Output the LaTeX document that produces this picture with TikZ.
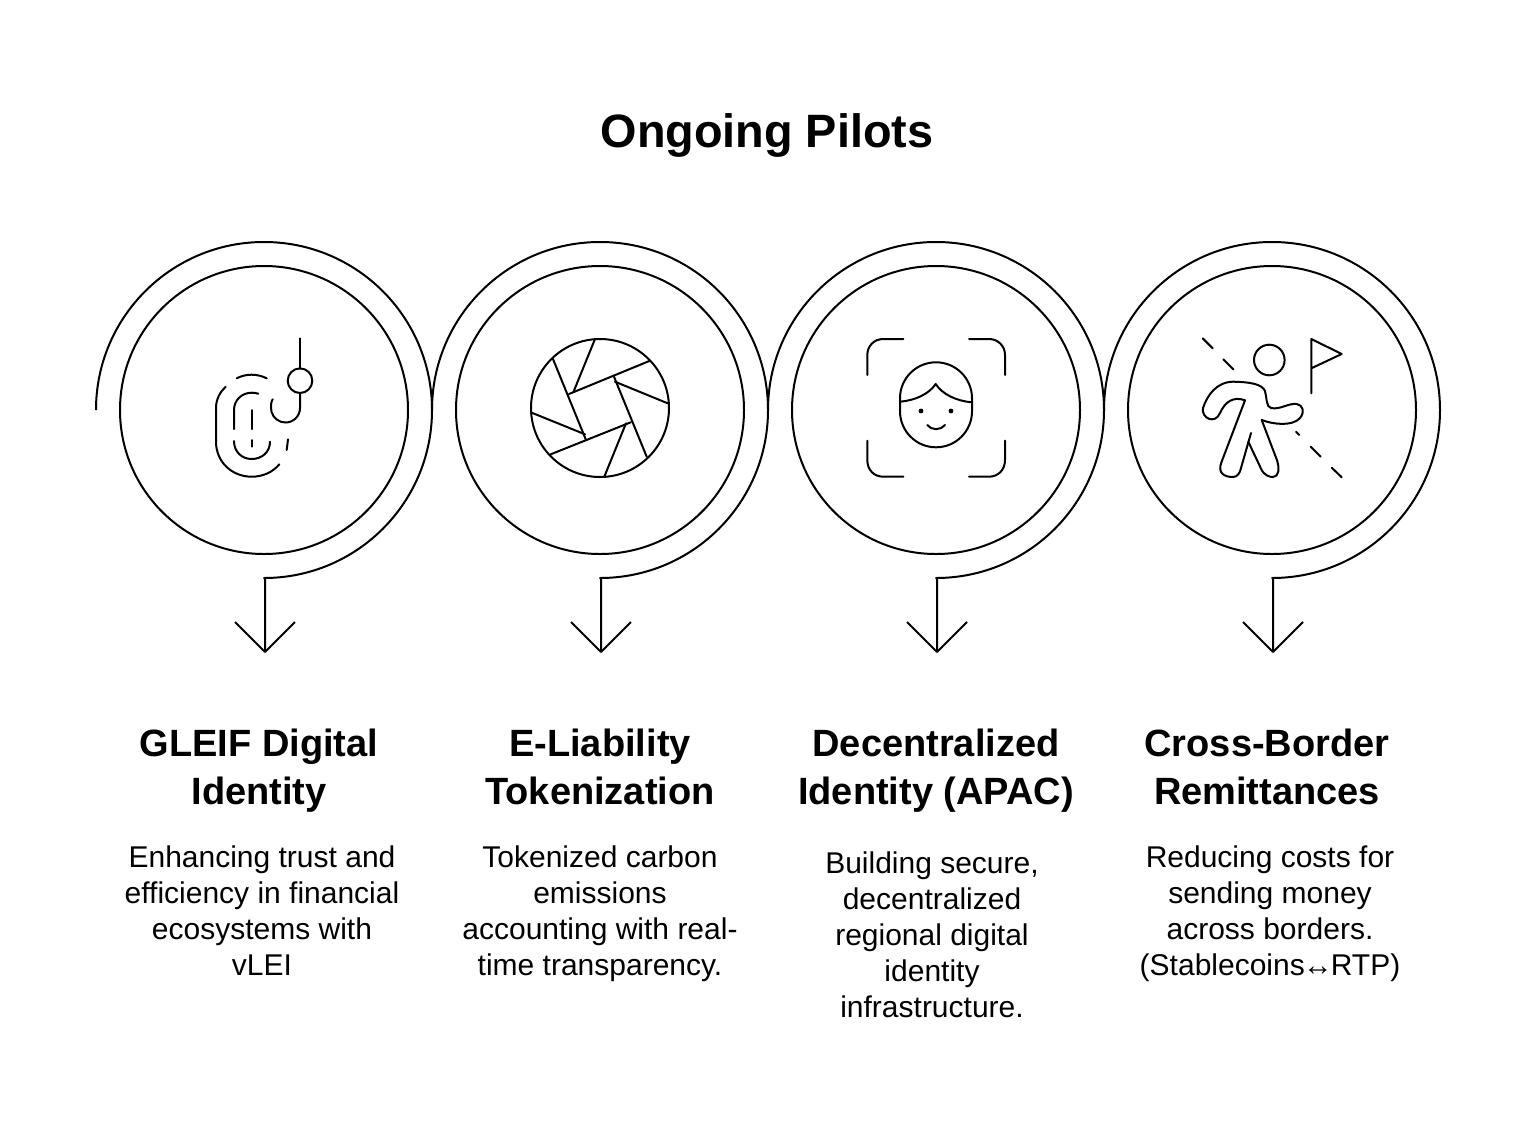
\documentclass[tikz,border=0pt]{standalone}
\usepackage{fontspec}
\setmainfont{Liberation Sans}
\tikzset{
  ink/.style={line width=2pt,draw=black,line join=round},
  icon/.style={ink,line cap=round},
  ring/.style={ink,circle,inner sep=0pt,minimum size=288pt},
  titletext/.style={inner sep=0pt,font=\fontsize{46.8}{58}\selectfont\bfseries},
  headtext/.style={inner sep=0pt,align=center,font=\fontsize{38}{48}\selectfont\bfseries},
  bodytext/.style={inner sep=0pt,align=center,font=\fontsize{30}{36}\selectfont},
}
\begin{document}
\begin{tikzpicture}[x=1pt,y=-1pt]
\useasboundingbox (0,0) rectangle (1534,1128);
\node[titletext] (title) at (767,135) {Ongoing Pilots};
% rings, spirals, arrows
\foreach \i/\cx in {1/264,2/600,3/936,4/1272}{
  \node[ring] (c\i) at (\cx,410) {};
  \coordinate (s\i) at (\cx-168,410);
  \coordinate (e\i) at (\cx+1,578);
  \coordinate (tip\i) at (\cx+1,652);
  \coordinate (hl\i) at (\cx+1-30,622);
  \coordinate (hr\i) at (\cx+1+30,622);
  \draw[ink] (s\i) arc[start angle=180,end angle=450,radius=168] -- (e\i) -- (tip\i);
  \draw[ink] (hl\i) -- (tip\i) -- (hr\i);
}
% icon 1
\draw[icon] (300,338.3) -- (300,368.5);
\node[ink,circle,inner sep=0pt,minimum size=24.6pt] (hookball) at (300,380.7) {};
\draw[icon] (hookball.south) -- (300,408) arc[start angle=0,end angle=165,radius=14.5] .. controls (270.5,405) and (271,402) .. (272.7,399.3);
\draw[icon] (225.7,386.7) .. controls (220,392) and (216,399) .. (216,408.3) -- (216,441.7) .. controls (216,462) and (232,476.7) .. (251.7,476.7) .. controls (263,476.7) and (273,472) .. (279.3,464.3);
\draw[icon] (236.7,378.3) .. controls (246,373.5) and (257,373.5) .. (266.7,378.3);
\draw[icon] (234,429) -- (234,410) .. controls (234,400) and (242,392.7) .. (251.7,392.7) .. controls (254,392.7) and (256,393) .. (258.3,393.7);
\draw[icon] (251.7,410) -- (251.7,429);
\draw[icon] (251.7,440) -- (251.7,446.7);
\draw[icon] (234,441) .. controls (234,452) and (242,459) .. (251.7,459) .. controls (262,459) and (270,452) .. (270,441.7);
\draw[icon] (288,439.3) -- (286.7,450);
% icon 2
\node[ink,circle,inner sep=0pt,minimum size=138pt] (iris) at (600,408) {};
\draw[icon] (595,339) -- (573.3,392.3);
\draw[icon] (552.7,358.3) -- (586,440);
\draw[icon] (649.3,361) -- (569,394);
\draw[icon] (531.7,412.7) -- (585,434.3);
\draw[icon] (667.7,403.3) -- (615,381.7);
\draw[icon] (614,376.7) -- (646.7,456.7);
\draw[icon] (550.7,454.3) -- (630.7,422.3);
\draw[icon] (626,423.3) -- (604.3,476.7);
% icon 3
\draw[icon] (903.3,339) -- (883.3,339) .. controls (874,339) and (867.3,346) .. (867.3,355) -- (867.3,375);
\draw[icon] (969,339) -- (989,339) .. controls (998,339) and (1005,346) .. (1005,355) -- (1005,375);
\draw[icon] (867.3,440.7) -- (867.3,460) .. controls (867.3,470) and (874,476.7) .. (883.3,476.7) -- (903.3,476.7);
\draw[icon] (1005,440.7) -- (1005,460) .. controls (1005,470) and (998,476.7) .. (989,476.7) -- (969,476.7);
\draw[icon] (900,398.3) .. controls (900,378.5) and (916,362.3) .. (936,362.3) .. controls (956,362.3) and (972,378.5) .. (972,398.3) -- (972,411.3) .. controls (972,431) and (956,447.3) .. (936,447.3) .. controls (916,447.3) and (900,431) .. (900,411.3) -- cycle;
\draw[icon] (900,401.7) .. controls (915,400.5) and (929,394) .. (935.7,384) .. controls (942,394) and (956,401) .. (972,402.3);
\fill (921,411) circle[radius=2.4];
\fill (951,411) circle[radius=2.4];
\draw[icon] (927.3,425) .. controls (931,430.5) and (941,430.5) .. (945,425);
% icon 4
\draw[icon] (1202.7,338.3) -- (1212.7,348.3);
\draw[icon] (1223.3,359.3) -- (1233.3,369.3);
\draw[icon] (1296,431.7) -- (1299.3,435);
\draw[icon] (1310.7,446.7) -- (1320.7,456.7);
\draw[icon] (1331.7,467.7) -- (1341.7,477.3);
\node[ink,circle,inner sep=0pt,minimum size=30.6pt] (walkerhead) at (1269.3,360) {};
\draw[icon] (1311.3,393.3) -- (1311.3,339) -- (1341.7,354) -- (1311.3,368.3);
\draw[icon] (1245,400.3) -- (1221.7,461.5)
  .. controls (1217,473) and (1224,477) .. (1233,477)
  .. controls (1238,477) and (1240,472) .. (1240.7,469)
  -- (1251,433);
\draw[icon] (1248.3,441.7) -- (1260.7,468)
  .. controls (1264,476) and (1270,477) .. (1273,477)
  .. controls (1279,477) and (1279.5,468) .. (1277.3,461)
  -- (1261.7,420);
\draw[icon] (1261.7,420)
  .. controls (1272,424) and (1292,427) .. (1300,418)
  .. controls (1305,412) and (1303,405) .. (1296.7,404)
  .. controls (1288,403) and (1280,410) .. (1271,408)
  .. controls (1266,407) and (1267,398) .. (1265,391)
  .. controls (1262,384) and (1250,382) .. (1233,381.7)
  .. controls (1216,382) and (1207,396) .. (1203,408)
  .. controls (1201,418) and (1215,425) .. (1220,413)
  .. controls (1225,402) and (1233,396) .. (1245,400.3);
% labels
\node[headtext] (h1) at (259,771) {GLEIF Digital\\Identity};
\node[headtext] (h2) at (600,767) {E-Liability\\Tokenization};
\node[headtext] (h3) at (936,771) {Decentralized\\Identity (APAC)};
\node[headtext] (h4) at (1267,767) {Cross-Border\\Remittances};
\node[bodytext] (b1) at (262,911) {Enhancing trust and\\efficiency in financial\\ecosystems with\\vLEI};
\node[bodytext] (b2) at (600,914) {Tokenized carbon\\emissions\\accounting with real-\\time transparency.};
\node[bodytext] (b3) at (932,935) {Building secure,\\decentralized\\regional digital\\identity\\infrastructure.};
\node[bodytext] (b4) at (1270,914) {Reducing costs for\\sending money\\across borders.\\(Stablecoins\kern-2pt↔\kern-2ptRTP)};
\end{tikzpicture}
\end{document}
